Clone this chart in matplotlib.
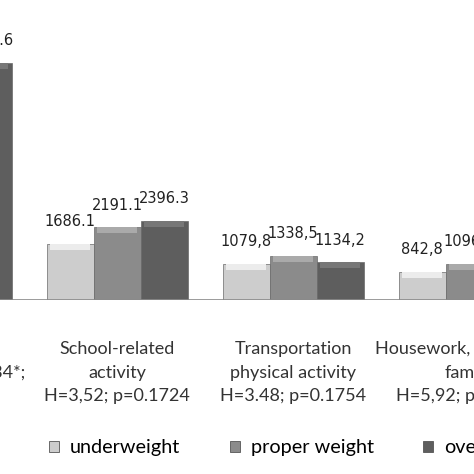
import matplotlib
matplotlib.use("Agg")
import matplotlib.pyplot as plt
from matplotlib.patches import Patch
import numpy as np

# category labels (first and last are cut by the crop in the original)
categories = [
    "Sport activity\nH=11,19; p=0.0034*;",
    "School-related\nactivity\nH=3,52; p=0.1724",
    "Transportation\nphysical activity\nH=3.48; p=0.1754",
    "Housework, helping the\nfamily\nH=5,92; p=0.0518",
]
series = ["underweight", "proper weight", "overweight"]
underweight = [5230.4, 1686.1, 1079.8, 842.8]
proper_weight = [6120.7, 2191.1, 1338.5, 1096.4]
overweight = [7144.6, 2396.3, 1134.2, 1154.0]
value_labels = [
    ["5230.4", "6120.7", "7144.6"],
    ["1686.1", "2191.1", "2396.3"],
    ["1079,8", "1338,5", "1134,2"],
    ["842,8", "1096,4", "1154,0"],
]

colors = ["#cdcdcd", "#8b8b8b", "#5e5e5e"]
tops = ["#ececec", "#aaaaaa", "#777777"]

fig = plt.figure(figsize=(4.74, 4.74), dpi=100)
ax = fig.add_axes([0, 0.367, 1, 0.56])

x = np.arange(len(categories))
w = 0.267
data = [underweight, proper_weight, overweight]
for k, vals in enumerate(data):
    pos = x + (k - 1) * w
    ax.bar(pos, vals, width=w, color=colors[k], edgecolor="#6a6a6a",
           linewidth=0.5, zorder=2)
    # lighter bevel strip at the top of each bar
    ax.bar(pos, [180] * len(vals), bottom=np.array(vals) - 180, width=w * 0.86,
           color=tops[k], linewidth=0, zorder=3)
    for xi, v, lab in zip(pos, vals, [r[k] for r in value_labels]):
        ax.annotate(lab, (xi, v), xytext=(0, 16), textcoords="offset points",
                    ha="center", va="center", fontsize=10.5,
                    family="DejaVu Sans", color="#222222",
                    annotation_clip=False)

# category labels as text so the cut-off first group still shows
for xi, cat in zip(x, categories):
    ax.annotate(cat, (xi, 0), xycoords=("data", "axes fraction"),
                xytext=(0, -29.5), textcoords="offset points",
                ha="center", va="top", fontsize=13, family="Lato",
                color="#333333", linespacing=1.58, annotation_clip=False)

ax.axhline(0, color="#8a8a8a", lw=1.2, zorder=4)
for s in ax.spines.values():
    s.set_visible(False)
ax.set_yticks([])
ax.set_xticks([])
ax.set_xlim(0.335, 3.028)
ax.set_ylim(0, 8000)

handles = [Patch(facecolor=c, edgecolor="#555555", lw=0.6) for c in colors]
fig.legend(handles, series, loc="center left", bbox_to_anchor=(0.066, 0.055),
           ncol=3, frameon=False, prop={"family": "Lato", "size": 14.3},
           handlelength=0.5, handleheight=0.5, handletextpad=0.55,
           columnspacing=2.5)

fig.savefig("out.png", dpi=100)
